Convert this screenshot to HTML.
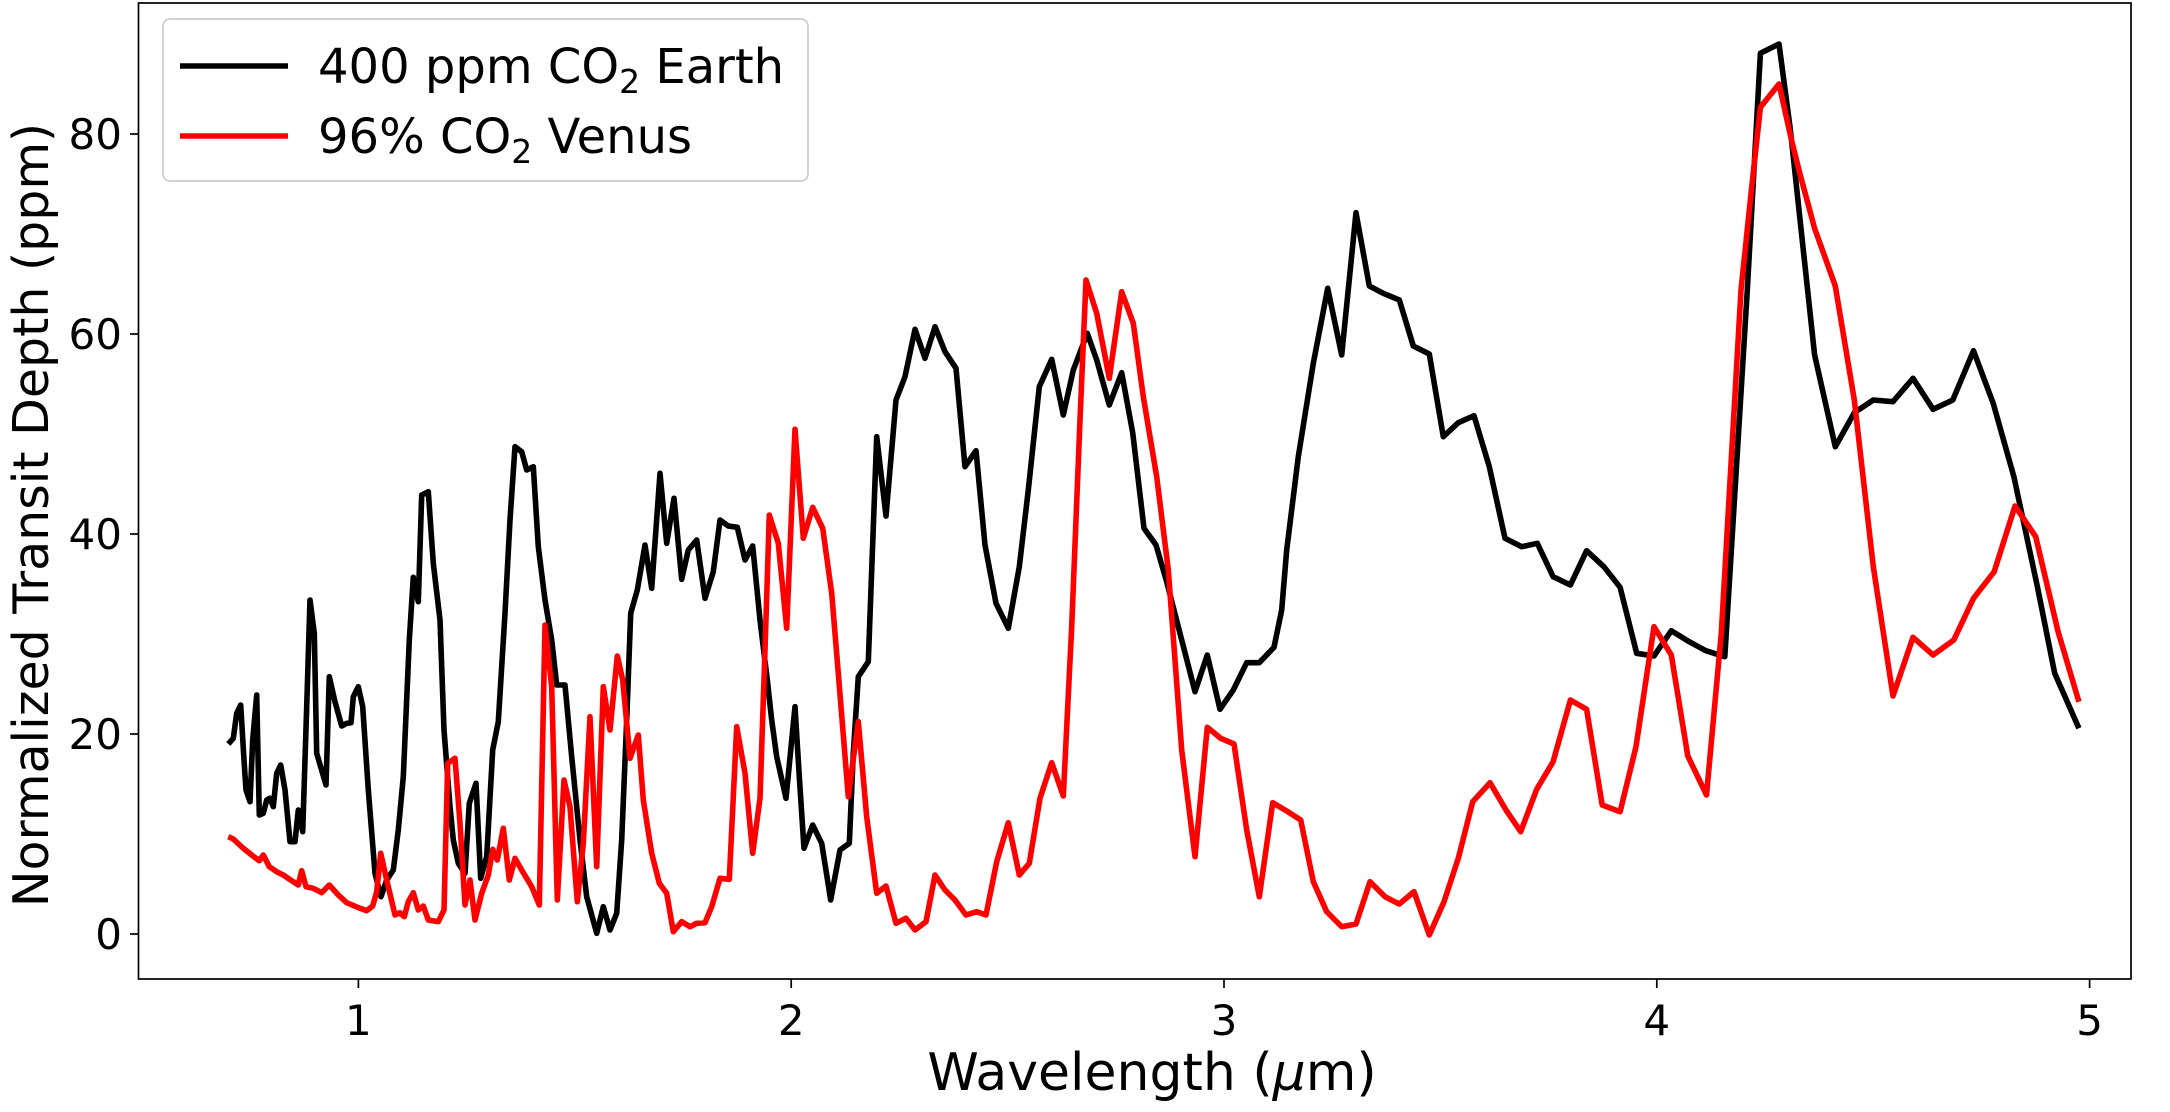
<!DOCTYPE html>
<html><head><meta charset="utf-8"><style>
html,body{margin:0;padding:0;background:#fff;}
svg{display:block;}
text{font-family:"DejaVu Sans","Liberation Sans",sans-serif;fill:#000;}
</style></head><body>
<svg width="2170" height="1112" viewBox="0 0 2170 1112" xmlns="http://www.w3.org/2000/svg">
<rect x="0" y="0" width="2170" height="1112" fill="#fff"/>
<g fill="none" stroke-width="5.6" stroke-linejoin="round" stroke-linecap="butt">
<polyline stroke="#000" points="228.3,744 233.3,738.3 236.7,713.3 240.7,705 244,760 246,790 250,801.7 252.7,740 256.7,695 259.3,815 263.3,813.3 266.7,800 270,798.3 273.3,806.7 276.7,773.3 280.7,765 285,790 290,841.7 295,841.7 298.3,810 302.7,831.7 306.7,706.7 310,600 314.3,633.3 316.7,753.3 326,785 329.3,676.7 335,701.7 341.7,726 346.7,723.3 351,722.7 353.3,696.7 358.3,686.7 362.7,706.7 368.3,790 375,873.3 381,896.7 386.7,880 393.3,870 398.3,830 403.3,776.7 409.3,640 413.3,577.3 418.3,601.7 421.7,495 428.3,491.7 433.3,563.3 440,620 444,730 450,806.7 453.3,840 458.3,863.3 465,873.3 469.3,803.3 476,783.3 480.7,878.3 486.7,856.7 492.7,750 498.3,721.7 505,613.3 510,520 515,446.7 521.7,451.7 526.7,470 533.3,466.7 538.3,546.7 545,600 551.7,640 556.7,685 565,685 571.7,756.7 580,840 586.7,896.7 596.7,933.3 603.3,906.7 610,930 616.7,913.3 621.7,840 626.7,720 630.7,613.3 637.3,590 645,545 651.7,588.3 660,473.3 666.7,543.3 674,498.3 681.7,579.3 688.3,550 696.7,540 705,598.3 713.3,571.7 720,520 728.3,526 737.3,527.3 745,560 752.7,546 760,620 767.3,680 771.7,720 776.7,756.7 786,798.3 795,706.7 799.3,776.7 804,848.3 812.7,825 821.7,843.3 830.7,900 840,850 849.3,843.3 853.3,753.3 858.3,676.7 868.3,661.7 871.7,570 876.7,436.7 886,516 896,400 905,376.7 915,329.3 925,358.3 935,326.7 945,351.7 956,368.3 965,466.7 976,450.7 985,545 996,603.3 1008.3,628.3 1019.3,566.7 1028.3,490 1039.3,386.7 1051.7,359.3 1063.3,415 1073.3,370 1087.3,333.3 1096.7,360 1109.3,405 1121.7,372.7 1132.7,432.7 1144,528.3 1156,545 1166.7,581.7 1181.7,640 1195,691.7 1207.3,655 1220,709.3 1233.3,690 1246.7,662.7 1259.3,662.7 1274,647.3 1281.7,610 1286.7,550 1298.3,456.7 1313.3,363.3 1327.7,288.3 1341.7,355 1356,212.7 1369.3,286 1383.3,293.3 1399.3,300 1413.3,346 1429.3,354 1443.3,436.7 1458.3,422.7 1474,415.7 1489.3,466.7 1505,538.3 1521.7,546.7 1537.3,543.3 1553.1,576.7 1570.4,585 1586.6,550.7 1603.9,566.7 1620.1,587.3 1636.7,653.3 1654,656 1671.3,630.7 1689.2,641.7 1705.8,650.7 1724.8,656.7 1747.3,290 1760.4,53.3 1779,44 1790.4,130 1814.6,355 1835.3,446.7 1854.3,412.7 1873.3,400 1893,401.7 1913,378.3 1933.1,409.3 1952.8,400 1973.5,350.7 1993.2,403.3 2013.9,476.7 2037.4,586.7 2054.7,673.3 2078.9,728.3"/>
<polyline stroke="#f00" points="228.3,836.7 233.3,839 243.3,848.3 251.7,855 259.3,860.7 263.3,855 269.3,866.7 276.7,871.7 283.3,875 291.7,880.7 298.3,885 301.7,870.7 306,886.7 313.3,888.3 321.7,892.7 329.3,885 338.3,895 346.7,902.7 360,908.3 366.7,910.7 372.7,906 376.7,891.7 380.7,853.3 386.7,880 395,915 400,912.7 404.3,916.7 408.3,901.7 413.3,892.7 418.3,910 423.3,906 428.3,920 438.3,921.7 444,910 447.7,763.3 455,758.3 460,823.3 465,905 470,880 475,920 481.7,893.3 488.3,875 492.7,849.3 497.3,860 503.3,828.3 509.3,880 515,858.3 521.7,870 531.7,886.7 539.3,905 545,625 551.7,686.7 557.3,900 564,780 570,806.7 577.3,901.7 583.3,843.3 590,716.7 596.7,866.7 603.3,686.7 610,730 617.3,656 622.7,680 630,758.3 638.3,735 643.3,800 651.7,853.3 659.3,883.3 666.7,893.3 673.3,931.7 681.7,921.7 690,926.7 696.7,923.3 705,922.7 711.7,906.7 720,878.3 729.3,879.3 736.7,726.7 745,773.3 752.7,853.3 760,798.3 765,650 769.3,515 778.3,543.3 786.7,628.3 795,429.3 803.3,538.3 812.7,507.3 822.7,528.3 831.7,593.3 838.3,673.3 848.3,796.7 858.3,721.7 866.7,816.7 876.7,893.3 886,886 896,923.3 906,918.3 915,930 926,921.7 935,875 945,890 955,900 966,915 976.7,911.7 986,915 996.7,861.7 1008.3,822.7 1019.3,875 1029.3,863.3 1040,798.3 1051.7,762.7 1063.3,796 1071.7,626.7 1080,420 1086,280 1096.7,313.3 1109.3,378.3 1121.7,291.7 1133.3,323.3 1143.3,396.7 1156.7,476.7 1168.3,570 1181.7,750 1195,856.7 1207.3,727.3 1220.7,738.3 1234,744 1246.7,830 1259.3,896.7 1272.7,802.7 1286.7,811 1300.7,820 1313.3,881.7 1326.7,911.7 1341.7,926.7 1356,924 1370,881.7 1385,896.7 1399.3,904 1414,891.7 1429.3,935 1444,901.7 1458.3,858.3 1472.7,801.7 1490,782.7 1506,810 1520.7,831.7 1536.7,789.3 1553.1,761.7 1570.4,700 1586.6,709.3 1602.2,805 1620.1,811.7 1636,746.7 1654,626.7 1671.3,655 1687.8,756 1706.5,795 1721.3,633.3 1741,290 1751.4,190 1760.4,107.3 1779,84 1791.5,140 1799.8,173.3 1814.6,228.3 1835.3,286 1854.3,400 1873.3,566.7 1893,696 1913,637.3 1933.1,655 1953.8,640 1973.5,598.3 1994.2,571.7 2015,506 2035.7,536.7 2058.1,631.7 2078.9,701.7"/>
</g>
<rect x="138.5" y="3" width="1992.5" height="976" fill="none" stroke="#000" stroke-width="1.7"/>
<g stroke="#000" stroke-width="1.7">
<line x1="358.4" y1="979" x2="358.4" y2="988"/><line x1="791.2" y1="979" x2="791.2" y2="988"/><line x1="1224" y1="979" x2="1224" y2="988"/><line x1="1656.8" y1="979" x2="1656.8" y2="988"/><line x1="2089.6" y1="979" x2="2089.6" y2="988"/>
<line x1="130" y1="934" x2="138.5" y2="934"/><line x1="130" y1="734" x2="138.5" y2="734"/><line x1="130" y1="534" x2="138.5" y2="534"/><line x1="130" y1="334" x2="138.5" y2="334"/><line x1="130" y1="134" x2="138.5" y2="134"/>
</g>
<g font-size="42" text-anchor="middle">
<text x="358.4" y="1035">1</text><text x="791.2" y="1035">2</text><text x="1224" y="1035">3</text><text x="1656.8" y="1035">4</text><text x="2089.6" y="1035">5</text>
</g>
<g font-size="42" text-anchor="end">
<text x="122" y="949">0</text><text x="122" y="749">20</text><text x="122" y="549">40</text><text x="122" y="349">60</text><text x="122" y="149">80</text>
</g>
<text x="1152" y="1090" font-size="52" text-anchor="middle">Wavelength (<tspan font-style="italic">μ</tspan>m)</text>
<text transform="translate(48,515) rotate(-90)" font-size="49" text-anchor="middle">Normalized Transit Depth (ppm)</text>
<rect x="163" y="19" width="645" height="162" rx="7" fill="#fff" stroke="#ccc" stroke-width="1.7"/>
<line x1="180" y1="66" x2="288" y2="66" stroke="#000" stroke-width="5.6"/>
<line x1="180" y1="136" x2="288" y2="136" stroke="#f00" stroke-width="5.6"/>
<text x="318" y="83" font-size="48">400 ppm CO<tspan font-size="33" dy="10">2</tspan><tspan dy="-10"> Earth</tspan></text>
<text x="318" y="153" font-size="48">96% CO<tspan font-size="33" dy="10">2</tspan><tspan dy="-10"> Venus</tspan></text>
</svg>
</body></html>
